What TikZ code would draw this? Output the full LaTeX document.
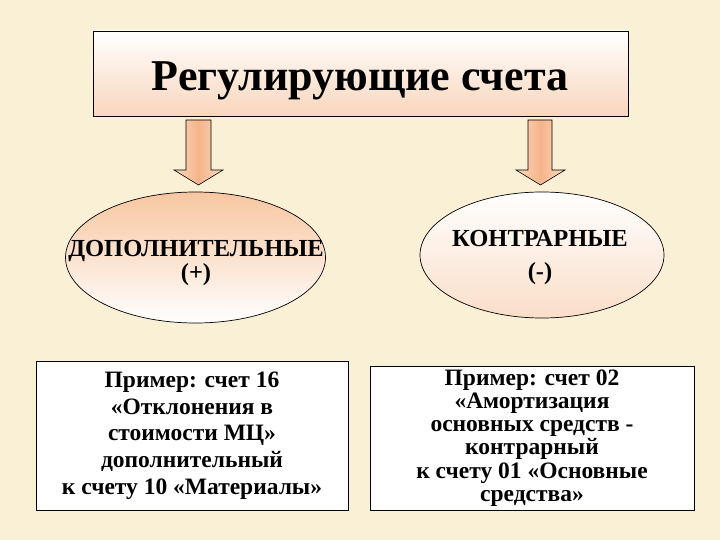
\documentclass[tikz,border=0pt]{standalone}
\usepackage{fontspec}
\setmainfont{Liberation Serif}
\usetikzlibrary{shapes.geometric}
\definecolor{bg}{RGB}{250,240,214}
\definecolor{peach}{RGB}{247,198,160}
\definecolor{peachL}{RGB}{249,214,188}
\definecolor{peachR}{RGB}{250,222,200}
\definecolor{arrowC}{RGB}{245,180,138}
\definecolor{arrowE}{RGB}{251,218,192}
\begin{document}
\begin{tikzpicture}[x=1pt,y=-1pt,
  titlebox/.style={draw=black, line width=0.8pt, top color=white, bottom color=peachL,
    minimum width=535pt, minimum height=85pt, inner sep=0pt},
  oval/.style={ellipse, draw=black, line width=0.7pt, inner sep=0pt},
  ovaltext/.style={anchor=base, inner sep=0pt, font=\fontsize{24.5}{28}\selectfont\bfseries},
  examplebox/.style={draw=black, line width=0.8pt, fill=white, inner sep=0pt, align=center},
  blockarrow/.style={draw=black, line width=0.6pt, left color=arrowE, right color=arrowE, middle color=arrowC}
]
% background
\fill[bg] (0,0) rectangle (720,540);
\useasboundingbox (0,0) rectangle (720,540);

% title
\node[titlebox] (title) at (360.5,73.5) {};
\node[anchor=base, inner sep=0pt, font=\fontsize{44}{50}\selectfont\bfseries] (titletext) at (360,91) {Регулирующие счета};

% ellipses
\node[oval, top color=peach, bottom color=white, minimum width=260pt, minimum height=131pt] (left) at (195.5,257.5) {};
\node[oval, top color=white, bottom color=peachR, minimum width=244pt, minimum height=126pt] (right) at (542,255) {};
\node[ovaltext] (lefta) at (196,256) {ДОПОЛНИТЕЛЬНЫЕ};
\node[ovaltext] (leftb) at (196,280) {(+)};
\node[ovaltext] (righta) at (540,247) {КОНТРАРНЫЕ};
\node[ovaltext] (rightb) at (540,279) {(-)};

% block arrows
\coordinate (la) at (198.5,120);
\coordinate (ra) at (540,120);
\path[blockarrow] ([xshift=-12.5pt]la) -- ([xshift=12.5pt]la) -- ++(0,50) -- ++(12,0)
  -- (198.5,185) -- (174,170) -- ([xshift=-12.5pt]la |- 0,170) -- cycle;
\path[blockarrow] ([xshift=-12pt]ra) -- ([xshift=12pt]ra) -- ++(0,50) -- ++(13,0)
  -- (540.5,185) -- (516,170) -- ([xshift=-12pt]ra |- 0,170) -- cycle;

% example boxes
\node[examplebox, minimum width=312pt, minimum height=149pt,
  font=\fontsize{23.5}{26.7}\selectfont\bfseries] (exl) at (192,435.5)
  {Пример: счет 16\\«Отклонения в\\стоимости МЦ»\\дополнительный\\к счету 10 «Материалы»};
\node[examplebox, minimum width=324pt, minimum height=144pt,
  font=\fontsize{23.5}{23.3}\selectfont\bfseries] (exr) at (532,438)
  {Пример: счет 02\\«Амортизация\\основных средств -\\контрарный\\к счету 01 «Основные\\средства»};
\end{tikzpicture}
\end{document}
